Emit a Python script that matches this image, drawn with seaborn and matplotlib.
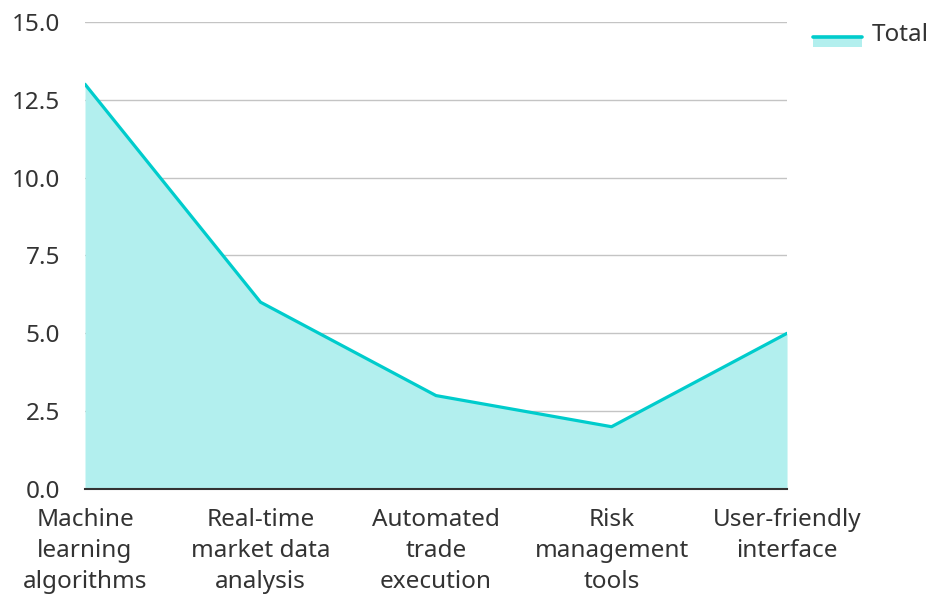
import pandas as pd
import seaborn as sns
import matplotlib.pyplot as plt
from matplotlib.patches import Rectangle
from matplotlib.lines import Line2D

categories = ['Machine\nlearning\nalgorithms', 'Real-time\nmarket data\nanalysis',
              'Automated\ntrade\nexecution', 'Risk\nmanagement\ntools',
              'User-friendly\ninterface']
totals = [13, 6, 3, 2, 5]

df = pd.DataFrame({'pos': range(len(categories)), 'Total': totals})

sns.set_theme(style='white')
plt.rcParams['font.family'] = ['Noto Sans', 'DejaVu Sans']

line_c = '#00CCCC'
fill_c = '#B2EFEE'
text_c = '#333333'
fs = 17.5


# legend key: filled box with the line along its top edge
class AreaHandler:
    def legend_artist(self, legend, orig_handle, fontsize, handlebox):
        x0, y0 = handlebox.xdescent, handlebox.ydescent
        w, h = handlebox.width, handlebox.height
        ymid = y0 + h / 2
        rect = Rectangle((x0, ymid - 10), w, 7, facecolor=fill_c, edgecolor='none',
                         transform=handlebox.get_transform())
        ln = Line2D([x0, x0 + w], [ymid - 3, ymid - 3], color=line_c, lw=2.6,
                    transform=handlebox.get_transform())
        handlebox.add_artist(rect)
        handlebox.add_artist(ln)
        return rect


fig = plt.figure(figsize=(9.28, 5.94), dpi=100)
ax = fig.add_axes([0.0916, 0.1768, 0.7565, 0.7862])

ax.fill_between(df['pos'], df['Total'], color=fill_c, lw=0, zorder=1)
sns.lineplot(data=df, x='pos', y='Total', color=line_c, linewidth=2.3, ax=ax, zorder=3)

ax.set_xlim(0, len(categories) - 1)
ax.set_ylim(0, 15)
ax.set_yticks([0, 2.5, 5, 7.5, 10, 12.5, 15])
ax.set_yticklabels(['0.0', '2.5', '5.0', '7.5', '10.0', '12.5', '15.0'])
ax.set_xticks(range(len(categories)))
ax.set_xticklabels(categories, linespacing=1.4)
ax.set_xlabel('')
ax.set_ylabel('')
ax.yaxis.grid(True, color='#C4C4C4', lw=1, zorder=0)
ax.set_axisbelow(True)
ax.tick_params(axis='both', labelsize=fs, colors=text_c, length=0)
ax.tick_params(axis='x', pad=13.5)
ax.tick_params(axis='y', pad=18)
for s in ['left', 'right', 'top']:
    ax.spines[s].set_visible(False)
ax.spines['bottom'].set_color(text_c)
ax.spines['bottom'].set_linewidth(1.5)

ax.legend([Rectangle((0, 0), 1, 1)], ['Total'], loc='upper left',
          bbox_to_anchor=(1.037, 0.997), frameon=False, fontsize=fs,
          borderpad=0, borderaxespad=0, handlelength=2.0, handletextpad=0.4,
          labelcolor=text_c, handler_map={Rectangle: AreaHandler()})

fig.savefig('out.png', dpi=100)
